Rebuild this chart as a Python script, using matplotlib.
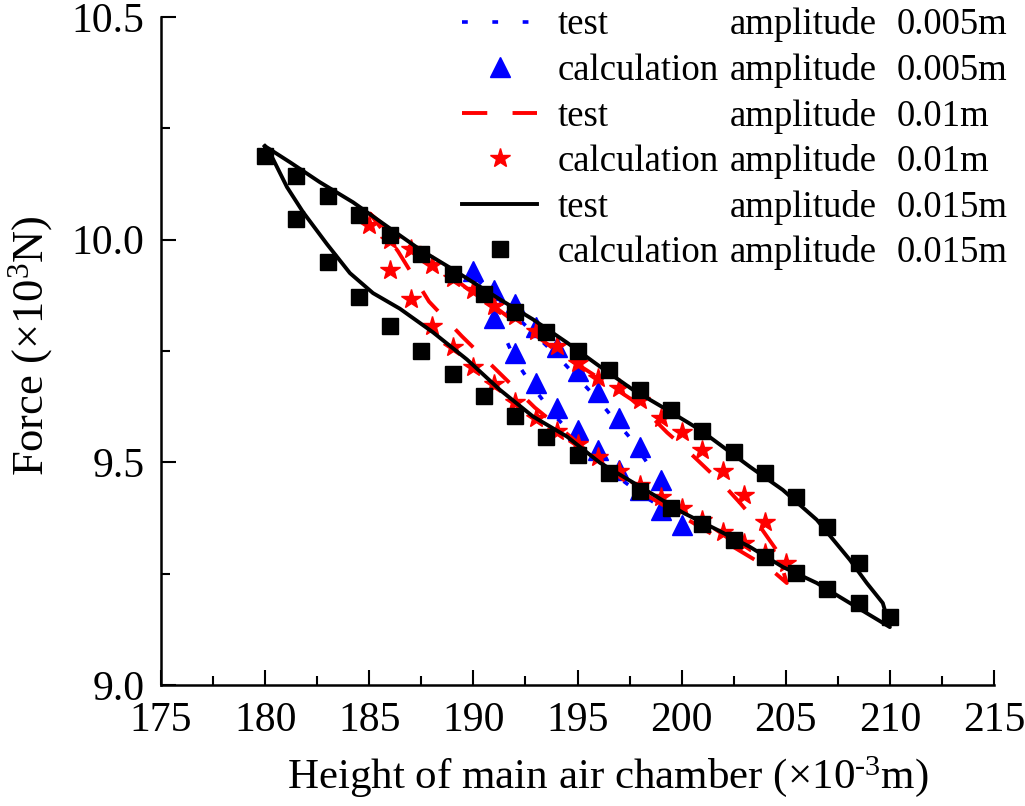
import matplotlib
matplotlib.use("Agg")
import matplotlib.pyplot as plt
from matplotlib.ticker import MultipleLocator

plt.rcParams['font.family'] = ['Liberation Serif', 'DejaVu Serif']
plt.rcParams['mathtext.fontset'] = 'custom'
plt.rcParams['mathtext.rm'] = 'Liberation Serif'
plt.rcParams['mathtext.it'] = 'Liberation Serif:italic'

# test 0.015m (closed loop: upper branch then lower branch)
t15_x = [179.99, 181.19, 182.63, 184.22, 185.85, 187.43, 189.02, 191.27, 192.86, 194.49,
         196.08, 197.66, 199.30, 200.88, 203.28, 204.86, 206.49, 208.08, 208.89, 209.66,
         210.0, 208.08, 206.49, 204.86, 203.28, 201.69, 200.06, 198.48, 196.08, 194.49,
         192.86, 191.27, 189.69, 188.06, 186.47, 185.18, 184.07, 182.97, 181.82, 181.05,
         180.38, 179.99]
t15_y = [10.210, 10.174, 10.129, 10.084, 10.030, 9.978, 9.933, 9.866, 9.821, 9.769,
         9.715, 9.663, 9.618, 9.573, 9.490, 9.438, 9.371, 9.281, 9.229, 9.184,
         9.130, 9.184, 9.229, 9.265, 9.310, 9.349, 9.387, 9.432, 9.499, 9.558,
         9.603, 9.663, 9.731, 9.792, 9.845, 9.880, 9.925, 9.990, 10.062, 10.118,
         10.181, 10.210]

# calculation 0.015m
c15_x = [180, 181.5, 183, 184.5, 186, 187.5, 189, 190.5, 192, 193.5, 195, 196.5, 198,
         199.5, 201, 202.5, 204, 205.5, 207, 208.5, 210,
         181.5, 183, 184.5, 186, 187.5, 189, 190.5, 192, 193.5, 195, 196.5, 198,
         199.5, 201, 202.5, 204, 205.5, 207, 208.5]
c15_y = [10.187, 10.142, 10.097, 10.055, 10.010, 9.967, 9.924, 9.879, 9.837, 9.792,
         9.751, 9.708, 9.663, 9.618, 9.571, 9.524, 9.477, 9.423, 9.355, 9.274, 9.153,
         10.046, 9.949, 9.872, 9.807, 9.751, 9.699, 9.650, 9.603, 9.558, 9.517,
         9.477, 9.436, 9.398, 9.362, 9.326, 9.288, 9.252, 9.216, 9.184]

# test 0.01m
t10_x = [185.0, 186, 187, 188, 189, 190, 191, 192, 193, 194, 195, 195.5, 196.5, 197.6,
         198.5, 199.3, 200.2, 201.1, 202, 202.8, 203.7, 204.6, 205.05,
         204.3, 202.7, 200.3, 197.9, 196.08, 194.73, 192.95, 191.18, 189.45, 187.87,
         186.38, 185.5, 185.0]
t10_y = [10.06, 10.02, 9.985, 9.95, 9.915, 9.88, 9.85, 9.815, 9.785, 9.75, 9.72, 9.705,
         9.675, 9.641, 9.605, 9.567, 9.53, 9.49, 9.45, 9.409, 9.36, 9.30, 9.229,
         9.259, 9.304, 9.371, 9.438, 9.499, 9.555, 9.623, 9.704, 9.783, 9.861,
         9.974, 10.03, 10.06]

# calculation 0.01m
c10_x = [185, 186, 187, 188, 189, 190, 191, 192, 193, 194, 195, 196, 197, 198, 199,
         200, 201, 202, 203, 204, 205,
         186, 187, 188, 189, 190, 191, 192, 193, 194, 195, 196, 197, 198, 199, 200,
         201, 202, 203, 204]
c10_y = [10.034, 10.00, 9.978, 9.944, 9.915, 9.888, 9.851, 9.828, 9.794, 9.761, 9.724,
         9.69, 9.668, 9.641, 9.600, 9.567, 9.528, 9.480, 9.427, 9.367, 9.274,
         9.933, 9.866, 9.806, 9.758, 9.713, 9.675, 9.636, 9.600, 9.571, 9.542, 9.513,
         9.48, 9.45, 9.423, 9.398, 9.371, 9.344, 9.319, 9.297]

# test 0.005m
t05_x = [190.2, 191, 192, 193, 194, 195, 196, 196.7, 197.6, 198.4, 199.1, 199.6,
         199, 198, 197, 196, 195, 194, 193, 192, 191.5, 190.7, 190.2]
t05_y = [9.91, 9.875, 9.83, 9.785, 9.74, 9.69, 9.64, 9.60, 9.551, 9.495, 9.43, 9.38,
         9.40, 9.43, 9.465, 9.505, 9.55, 9.60, 9.66, 9.73, 9.783, 9.843, 9.91]

# calculation 0.005m
c05_x = [190, 191, 192, 193, 194, 195, 196, 197, 198, 199, 200,
         191, 192, 193, 194, 195, 196, 197, 198, 199]
c05_y = [9.929, 9.888, 9.855, 9.805, 9.758, 9.704, 9.657, 9.600, 9.535, 9.461, 9.36,
         9.825, 9.746, 9.679, 9.623, 9.573, 9.528, 9.483, 9.438, 9.393]

labels1 = ['test', 'calculation', 'test', 'calculation', 'test', 'calculation']
labels2 = ['0.005m', '0.005m', '0.01m', '0.01m', '0.015m', '0.015m']

fig = plt.figure(figsize=(10.25, 8.06), dpi=100)
ax = fig.add_axes([161/1025, 1-685/806, (994-161)/1025, (685-17)/806])

h1, = ax.plot(t05_x, t05_y, color='blue', lw=2.6, linestyle=(0, (1.6, 6.8)))
h2, = ax.plot(c05_x, c05_y, '^', color='blue', ms=14, lw=0)
h3, = ax.plot(t10_x, t10_y, color='red', lw=2.8, linestyle=(0, (6.5, 6.5)))
h4, = ax.plot(c10_x, c10_y, '*', color='red', ms=15, lw=0)
h5, = ax.plot(t15_x, t15_y, color='black', lw=2.8)
h6, = ax.plot(c15_x, c15_y, 's', color='black', ms=12, lw=0)

ax.set_xlim(175, 215)
ax.set_ylim(9.0, 10.5)
ax.xaxis.set_major_locator(MultipleLocator(5))
ax.xaxis.set_minor_locator(MultipleLocator(2.5))
ax.yaxis.set_major_locator(MultipleLocator(0.5))
ax.yaxis.set_minor_locator(MultipleLocator(0.25))
ax.yaxis.set_major_formatter(matplotlib.ticker.FormatStrFormatter('%.1f'))
for s in ['top', 'right']:
    ax.spines[s].set_visible(False)
for s in ['left', 'bottom']:
    ax.spines[s].set_linewidth(1.8)
ax.tick_params(which='both', direction='in', width=1.5, labelsize=30)
ax.tick_params(which='major', length=11)
ax.tick_params(which='minor', length=6.5)
ax.tick_params(axis='x', pad=12)
ax.tick_params(axis='y', pad=12)

ax.set_xlabel(r'Height of main air chamber (×10$^{\text{-}3}$m)', fontsize=31,
              labelpad=10, x=0.537)
ax.set_ylabel(r'Force (×10$^{3}$N)', fontsize=32, labelpad=12, y=0.508)

leg = fig.legend([h1, h2, h3, h4, h5, h6], labels1, loc='upper left',
                 bbox_to_anchor=(462/1025, 1-8/806), frameon=False, fontsize=26.5,
                 handlelength=2.05, handletextpad=0.55, labelspacing=0.3,
                 borderpad=0, borderaxespad=0)

fig.canvas.draw()
for t, v in zip(leg.get_texts(), labels2):
    bb = t.get_window_extent()
    y = bb.y0 / fig.bbox.height
    fig.text(730/1025, y, 'amplitude', fontsize=26.5, va='bottom', ha='left')
    fig.text(897/1025, y, v, fontsize=26.5, va='bottom', ha='left')

fig.savefig('out.png', dpi=100)
